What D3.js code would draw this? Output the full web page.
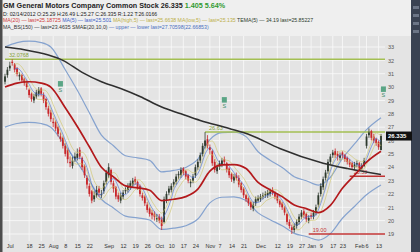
<!DOCTYPE html>
<html>
<head>
<meta charset="utf-8">
<script src="https://cdn.jsdelivr.net/npm/d3@7"></script>
<style>
  body { margin: 0; background: #e4e4e4; }
  svg { display: block; font-family: "Liberation Sans", Arial, sans-serif; }
</style>
</head>
<body>
<div id="vis"></div>
<script>
// setting constants
const FRAME_WIDTH = 420;
const FRAME_HEIGHT = 252;
const PLOT = {left: 3, right: 385, top: 36, bottom: 241};

// daily prices, trading day index 0 = Jul 1 2011 ... 156 = Feb 14 2012
const opens = [
  30.4,30.9,31.4,31.9,31.7,31.4,30.8,30.9,30.6,30.4,
  29.8,29.5,29.0,29.3,29.5,29.9,29.4,29.1,28.4,28.1,
  27.4,27.4,27.0,26.3,26.2,25.6,25.3,24.4,24.1,24.6,
  24.7,25.3,24.7,24.1,23.2,22.6,22.2,21.6,21.9,22.4,
  21.9,22.2,22.9,23.4,23.8,22.8,22.5,21.9,21.5,21.8,
  22.2,22.3,22.5,22.7,23.1,22.9,22.6,21.9,21.8,21.2,
  20.9,20.6,20.5,20.1,20.3,20.1,19.9,21.5,22.1,22.3,
  22.7,22.9,23.4,23.4,23.9,23.7,23.4,22.8,23.0,23.4,
  24.0,24.5,25.0,25.6,26.1,25.5,25.2,24.4,23.7,24.0,
  24.2,24.6,24.3,23.9,23.5,23.0,23.4,23.2,22.8,22.4,
  21.9,21.7,21.4,20.9,21.3,21.5,21.6,21.8,21.9,21.9,
  22.0,22.3,22.1,21.9,21.5,21.3,21.0,20.5,19.9,19.5,
  19.3,19.6,19.9,20.3,20.7,20.5,20.0,20.4,20.3,20.6,
  21.2,22.0,22.5,23.2,23.7,24.4,24.9,25.2,25.0,24.7,
  25.1,24.9,24.7,24.4,24.3,24.0,24.2,24.3,23.9,24.1,
  25.6,26.4,26.7,26.3,26.1,25.9,25.29
];
const highs = [
  31.0,31.5,31.9,32.08,31.8,31.5,31.1,31.0,30.7,30.5,
  29.9,29.6,29.5,29.8,30.0,30.0,29.6,29.2,28.6,28.3,
  27.7,27.5,27.1,26.6,26.3,25.8,25.4,24.8,24.8,25.1,
  25.4,25.5,24.8,24.2,23.4,22.8,22.3,22.2,22.6,22.6,
  22.3,23.0,23.8,24.3,23.9,23.0,22.6,22.1,22.1,22.3,
  22.5,22.8,23.0,23.2,23.3,23.0,22.7,22.1,21.9,21.4,
  21.0,20.8,20.7,20.5,20.5,20.3,21.8,22.2,22.6,22.8,
  23.1,23.5,23.7,24.0,24.0,23.8,23.5,23.1,23.5,24.2,
  24.6,25.1,25.8,26.63,26.4,25.7,25.3,24.6,24.2,24.5,
  24.7,24.8,24.4,24.0,23.6,23.5,23.6,23.4,22.9,22.5,
  22.0,21.8,21.5,21.4,21.8,21.9,22.0,22.1,22.2,22.3,
  22.4,22.5,22.2,22.0,21.6,21.4,21.1,20.6,20.1,19.7,
  19.8,20.1,20.5,20.8,20.9,20.6,20.4,20.6,20.8,21.2,
  22.1,22.8,23.3,23.8,24.6,25.0,25.3,25.4,25.2,25.1,
  25.2,25.0,24.8,24.6,24.4,24.4,24.5,24.4,24.3,24.7,
  26.5,26.9,26.8,26.5,26.2,26.0,26.49
];
const lows = [
  30.2,30.7,31.2,31.6,31.1,30.8,30.5,30.3,30.1,29.8,
  29.2,28.9,28.8,29.1,29.3,29.3,28.8,28.3,27.8,27.4,
  27.0,26.7,26.3,25.9,25.4,24.8,24.3,24.0,23.9,24.4,
  24.5,24.6,23.8,23.2,22.4,21.8,21.3,21.4,21.7,21.8,
  21.7,22.0,22.7,23.2,22.7,22.1,21.6,21.4,21.3,21.6,
  22.0,22.1,22.3,22.5,22.7,22.3,21.8,21.5,21.1,20.6,
  20.3,20.1,20.0,19.9,19.8,19.3,19.8,21.3,21.9,22.1,
  22.5,22.7,23.1,23.2,23.4,23.1,22.8,22.5,22.8,23.2,
  23.8,24.3,24.8,25.4,25.4,25.0,24.1,23.6,23.5,23.8,
  24.0,24.2,23.6,23.2,22.9,22.8,23.0,22.5,22.1,21.7,
  21.4,21.1,20.8,20.7,21.1,21.4,21.4,21.6,21.7,21.7,
  21.8,21.9,21.6,21.3,21.0,20.8,20.4,19.7,19.4,19.0,
  19.1,19.4,19.7,20.1,20.2,19.9,19.8,20.1,20.1,20.4,
  21.0,21.8,22.3,23.0,23.5,24.2,24.7,24.7,24.5,24.5,
  24.7,24.4,24.2,24.0,23.8,23.8,24.0,23.8,23.8,24.0,
  25.4,26.2,26.0,25.8,25.6,25.3,25.27
];
const closes = [
  30.8,31.3,31.6,31.8,31.3,31.0,30.9,30.5,30.3,30.0,
  29.4,29.1,29.3,29.6,29.8,29.5,29.0,28.5,28.0,27.6,
  27.3,26.9,26.5,26.1,25.6,25.0,24.6,24.3,24.5,24.8,
  25.0,24.8,24.0,23.4,22.7,22.0,21.5,21.9,22.3,22.1,
  22.0,22.8,23.6,24.0,22.9,22.4,21.8,21.6,21.9,22.1,
  22.3,22.6,22.8,23.0,22.9,22.5,22.0,21.7,21.3,20.8,
  20.5,20.4,20.3,20.2,20.0,19.6,21.6,22.0,22.4,22.6,
  22.9,23.3,23.5,23.8,23.6,23.3,23.0,22.9,23.3,24.0,
  24.4,24.9,25.6,26.0,25.6,25.3,24.3,23.8,24.0,24.3,
  24.5,24.4,23.8,23.4,23.1,23.3,23.2,22.7,22.3,21.9,
  21.6,21.3,21.0,21.2,21.6,21.7,21.8,21.9,22.0,22.1,
  22.2,22.1,21.8,21.5,21.2,21.0,20.6,19.9,19.6,19.3,
  19.6,19.9,20.3,20.6,20.4,20.1,20.2,20.3,20.6,21.0,
  21.9,22.6,23.1,23.6,24.4,24.8,25.1,24.9,24.8,24.9,
  24.9,24.6,24.4,24.2,24.0,24.2,24.3,23.9,24.1,24.5,
  26.3,26.6,26.2,26.0,25.8,25.5,26.335
];

// MA(20) and its 10% envelope (SMAE 20,10)
const maIdx = [0,5,10,15,19,25,30,35,40,45,50,55,60,65,70,75,80,85,90,95,100,105,110,115,120,125,130,135,140,145,150,156];
const ma20 = [30.0,30.3,30.4,30.3,30.0,28.45,27.05,25.53,24.0,23.28,22.6,22.45,22.28,21.5,21.6,21.8,22.36,23.7,24.17,24.2,23.9,22.87,22.3,21.8,21.17,20.9,20.6,21.14,22.42,23.4,24.38,25.19];
const envUpper = [33.0,33.33,33.44,33.33,33.0,31.3,29.76,28.08,26.4,25.61,24.86,24.7,24.51,23.65,23.76,23.98,24.6,26.07,26.59,26.62,26.29,25.16,24.53,23.98,23.29,22.99,22.66,23.25,24.66,25.74,26.82,27.71];
const envLower = [27.0,27.27,27.36,27.27,27.0,25.61,24.35,22.98,21.6,20.95,20.34,20.21,20.05,19.35,19.44,19.62,20.12,21.33,21.75,21.78,21.51,20.58,20.07,19.62,19.05,18.81,18.54,19.03,20.18,21.06,21.94,22.67];

// MA(150)
const m150Idx = [0,8,18,24,32,40,48,56,65,73,81,93,102,114,132,142,156];
const m150 = [33.0,32.8,32.4,32.0,31.1,30.4,29.9,29.3,28.5,28.0,27.5,26.9,26.4,25.4,24.3,23.9,23.46];

// horizontal levels
const levelValues = [32.0768, 26.63, 23.33, 19.00];
const levelStart = [0, 83, 143, 126];
const levelLabels = ["32.0768", "26.63", "23.33", "19.00"];

// event markers
const markerIdx = [23, 91, 157];
const markerPrice = [30.0, 28.8, 29.6];

// axes
const yTicks = [19,20,21,22,23,24,25,26,27,28,29,30,31,32,33];
const xTickIdx = [2,10,15,20,25,30,35,43,49,54,59,64,69,74,79,85,89,94,99,106,113,118,123,127,131,136,140,147,150,155];
const xTickLabels = ["Jul","18","25","Aug","8","15","22","Sep","12","19","26","Oct","10","17","24","Nov","7","14","21","Dec","12","19","27","Jan","9","17","23","Feb","6","13"];

const LEVEL_COLORS = ["#a3bf52", "#a3bf52", "#c23434", "#c23434"];

// adding frame
const FRAME = d3.select("#vis")
  .append("svg")
    .attr("width", FRAME_WIDTH)
    .attr("height", FRAME_HEIGHT);

// scales
const X_SCALE = d3.scaleLinear().domain([0, 156]).range([5, 381]);
const Y_SCALE = d3.scaleLinear().domain([19, 33]).range([234, 47]);

// backgrounds
FRAME.append("rect").attr("width", FRAME_WIDTH).attr("height", FRAME_HEIGHT).attr("fill", "#e4e4e4");
FRAME.append("rect").attr("width", FRAME_WIDTH).attr("height", PLOT.top).attr("fill", "#efefef");
FRAME.append("rect").attr("x", 0).attr("width", 2.5).attr("height", FRAME_HEIGHT).attr("fill", "#4c4c4c");
FRAME.append("rect").attr("x", 411).attr("width", 9).attr("height", FRAME_HEIGHT).attr("fill", "#3a4252");
[6, 14, 22, 30].forEach(yy => {
  FRAME.append("rect").attr("x", 413).attr("y", yy).attr("width", 6).attr("height", 3).attr("fill", "#6c7586");
});

FRAME.append("clipPath").attr("id", "clip")
  .append("rect")
    .attr("x", PLOT.left).attr("y", PLOT.top)
    .attr("width", PLOT.right - PLOT.left).attr("height", PLOT.bottom - PLOT.top);

// grid
const GRID = FRAME.append("g").attr("stroke", "#fafafa").attr("stroke-width", 0.8);
GRID.selectAll("line.h").data(yTicks).enter().append("line")
  .attr("x1", PLOT.left).attr("x2", PLOT.right)
  .attr("y1", d => Y_SCALE(d)).attr("y2", d => Y_SCALE(d));
GRID.selectAll("line.v").data(xTickIdx).enter().append("line")
  .attr("y1", PLOT.top).attr("y2", PLOT.bottom)
  .attr("x1", d => X_SCALE(d)).attr("x2", d => X_SCALE(d));

const PLOT_G = FRAME.append("g").attr("clip-path", "url(#clip)");

const lineGen = d3.line()
  .defined(d => d[1] != null)
  .x(d => X_SCALE(d[0]))
  .y(d => Y_SCALE(d[1]))
  .curve(d3.curveMonotoneX);

// envelope bands
[envUpper, envLower].forEach(arr => {
  PLOT_G.append("path")
    .datum(maIdx.map((d, i) => [d, arr[i]]))
    .attr("d", lineGen)
    .attr("fill", "none").attr("stroke", "#86a3cf").attr("stroke-width", 1.2);
});

// horizontal levels
levelValues.forEach((v, i) => {
  PLOT_G.append("line")
    .attr("x1", X_SCALE(levelStart[i])).attr("x2", PLOT.right)
    .attr("y1", Y_SCALE(v)).attr("y2", Y_SCALE(v))
    .attr("stroke", LEVEL_COLORS[i]).attr("stroke-width", 1.5);
  PLOT_G.append("text")
    .attr("x", X_SCALE(levelStart[i]) + 4).attr("y", Y_SCALE(v) - 2)
    .attr("font-size", "5.5px").attr("fill", i < 2 ? "#86a33a" : "#c23434")
    .text(levelLabels[i]);
});

// candles
const candles = PLOT_G.append("g");
candles.selectAll("line").data(closes).enter().append("line")
  .attr("x1", (d, i) => X_SCALE(i)).attr("x2", (d, i) => X_SCALE(i))
  .attr("y1", (d, i) => Y_SCALE(highs[i])).attr("y2", (d, i) => Y_SCALE(lows[i]))
  .attr("stroke", (d, i) => d >= opens[i] ? "#2e3a2e" : "#c8262a")
  .attr("stroke-width", 0.8);
candles.selectAll("rect").data(closes).enter().append("rect")
  .attr("x", (d, i) => X_SCALE(i) - 0.9)
  .attr("width", 1.8)
  .attr("y", (d, i) => Y_SCALE(Math.max(d, opens[i])))
  .attr("height", (d, i) => Math.max(0.7, Math.abs(Y_SCALE(d) - Y_SCALE(opens[i]))))
  .attr("fill", (d, i) => d >= opens[i] ? "#2e3a2e" : "#c8262a");

// short moving averages of the daily data
const rolling = arr => arr.map((d, i) => [i, i < 4 ? null : d3.mean(arr.slice(i - 4, i + 1))]);
[[highs, "#cfc56a"], [lows, "#cfc56a"], [closes, "#4a6fd0"]].forEach(([arr, col]) => {
  PLOT_G.append("path")
    .datum(rolling(arr))
    .attr("d", lineGen)
    .attr("fill", "none").attr("stroke", col).attr("stroke-width", 0.7).attr("opacity", 0.9);
});

// MA(150)
PLOT_G.append("path")
  .datum(m150Idx.map((d, i) => [d, m150[i]]))
  .attr("d", lineGen)
  .attr("fill", "none").attr("stroke", "#2f2f2f").attr("stroke-width", 1.6);

// MA(20)
PLOT_G.append("path")
  .datum(maIdx.map((d, i) => [d, ma20[i]]))
  .attr("d", lineGen)
  .attr("fill", "none").attr("stroke", "#b3191c").attr("stroke-width", 1.7);

// event markers
markerIdx.forEach((d, i) => {
  const mx = X_SCALE(d), my = Y_SCALE(markerPrice[i]);
  FRAME.append("rect").attr("x", mx - 2.5).attr("y", my - 6).attr("width", 5).attr("height", 5.5)
    .attr("fill", "#5aa585");
  FRAME.append("text").attr("x", mx).attr("y", my + 5).attr("text-anchor", "middle")
    .attr("font-size", "5.5px").attr("fill", "#3d8a68").text("S");
});

// y axis
const yAxis = FRAME.append("g")
  .attr("transform", "translate(" + PLOT.right + ",0)")
  .call(d3.axisRight(Y_SCALE).tickValues(yTicks).tickSize(0).tickPadding(3));
yAxis.select(".domain").remove();
yAxis.selectAll("text").attr("font-size", "5.5px").attr("fill", "#555").attr("font-family", "Liberation Sans, Arial, sans-serif");

// x axis
const xAxis = FRAME.append("g")
  .attr("transform", "translate(0," + PLOT.bottom + ")")
  .call(d3.axisBottom(X_SCALE).tickValues(xTickIdx).tickFormat((d, i) => xTickLabels[i]).tickSize(0).tickPadding(3));
xAxis.select(".domain").remove();
xAxis.selectAll("text").attr("font-size", "5.5px").attr("fill", "#333").attr("font-family", "Liberation Sans, Arial, sans-serif");

// last price tag
const lastY = Y_SCALE(closes[closes.length - 1]);
FRAME.append("rect").attr("x", 386).attr("y", lastY - 4.5).attr("width", 26).attr("height", 9).attr("fill", "#111");
FRAME.append("text").attr("x", 388).attr("y", lastY + 2.2)
  .attr("font-size", "6px").attr("font-weight", "bold").attr("fill", "#fff").text("26.335");

// header text
const h1 = FRAME.append("text").attr("x", 3).attr("y", 8).attr("font-size", "7.2px").attr("font-weight", "bold");
h1.append("tspan").attr("fill", "#222").text("GM General Motors Company Common Stock  26.335 ");
h1.append("tspan").attr("fill", "#2f9a2f").text(" 1.405  5.64%");

FRAME.append("text").attr("x", 3).attr("y", 15.5).attr("font-size", "5.2px").attr("fill", "#222")
  .text("D: 02/14/2012  O:25.29  H:26.49  L:25.27  C:26.335   R:1.22  T:26.0166");

const h3 = FRAME.append("text").attr("x", 3).attr("y", 22).attr("font-size", "5.2px");
h3.append("tspan").attr("fill", "#d03a3a").text("MA(20) \u2014 last=25.18725 ");
h3.append("tspan").attr("fill", "#3d5fc8").text("MA(5) \u2014 last=25.501 ");
h3.append("tspan").attr("fill", "#bdb04a").text("MA(high,5) \u2014 last=25.6638 MA(low,5) \u2014 last=25.135 ");
h3.append("tspan").attr("fill", "#2d3d2d").text("TEMA(5) \u2014 34.19 last=25.85227");

const h4 = FRAME.append("text").attr("x", 3).attr("y", 28.5).attr("font-size", "5.2px");
h4.append("tspan").attr("fill", "#333").text("MA_BS(150) \u2014 last=23.4635 SMAE(20,10,0) ");
h4.append("tspan").attr("fill", "#4a6fc0").text("\u2014 upper \u2014 lower  last=27.70598(22.66853)");
</script>
</body>
</html>
